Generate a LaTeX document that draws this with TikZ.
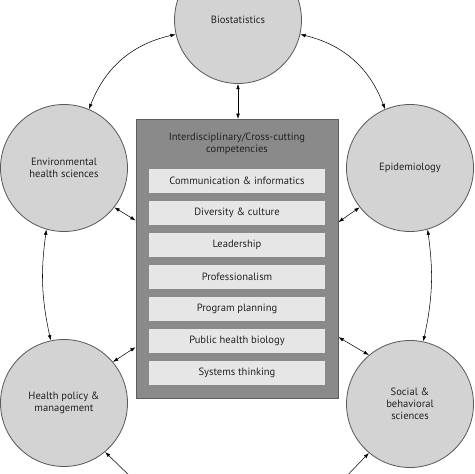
\documentclass[tikz,border=0pt]{standalone}
\usepackage{fontspec}
\setmainfont{PT Sans}
\usepackage{tikz}
\usetikzlibrary{matrix,arrows.meta}

\definecolor{discgray}{HTML}{D3D3D3}
\definecolor{discline}{HTML}{5A5A5A}
\definecolor{coregray}{HTML}{8A8A8A}
\definecolor{coreline}{HTML}{5E5E5E}
\definecolor{itemgray}{HTML}{E6E6E6}
\definecolor{inkgray}{HTML}{222222}

\tikzset{
  field/.style={circle, draw=discline, fill=discgray, line width=0.7pt,
    minimum size=3.81cm, inner sep=0pt, align=center, text=inkgray,
    font=\fontsize{9}{10.5}\selectfont},
  competency/.style={draw=none, fill=itemgray, minimum width=5.28cm,
    minimum height=0.72cm, inner sep=0pt, text=inkgray,
    font=\fontsize{9}{10.5}\selectfont},
  heading/.style={draw=none, fill=none, minimum width=0pt, minimum height=0pt,
    inner sep=0pt, text height=7pt, text depth=2pt, text=inkgray,
    font=\fontsize{9}{10.5}\selectfont},
  link/.style={<->, >={Latex[length=1.6mm,width=1.1mm]}, line width=0.45pt}
}

\begin{document}
\begin{tikzpicture}[x=0.03cm, y=-0.03cm]
    \useasboundingbox (0,0) rectangle (474,474);
    \clip (0,0) rectangle (474,474);

    % the disciplines
    \node[field] (bio) at (238,20) {Biostatistics};
    \node[field] (env) at (64,168) {Environmental\\health sciences};
    \node[field] (epi) at (410,168) {Epidemiology};
    \node[field] (hpm) at (64,403) {Health policy \&\\management};
    \node[field] (sbs) at (410,404) {Social \&\\behavioral\\sciences};

    % the shared competencies
    \matrix (core) [%
      matrix of nodes,
      draw=coreline, fill=coregray, line width=0.7pt,
      inner sep=0.39cm, row sep=0.24cm,
      nodes={competency},
      anchor=north
    ] at (237,119)
    {%
      |[heading]| Interdisciplinary/Cross-cutting \\[-0.2cm]
      |[heading]| competencies \\[0.19cm]
      Communication \& informatics \\
      Diversity \& culture \\
      Leadership \\
      Professionalism \\
      Program planning \\
      Public health biology \\
      Systems thinking \\
    };

    % links
    \coordinate (hpmout) at (138,484);
    \coordinate (sbsout) at (340,483);
    \draw[link] (bio.south) -- (bio.south |- core.north);
    \draw[link] (bio.193) to[bend right=28] (env.67);
    \draw[link] (bio.347) to[bend left=28] (epi.113);
    \draw[link] (env.254) to[bend right=10] (hpm.102);
    \draw[link] (epi.286) to[bend left=10] (sbs.78);
    \draw[link] (env.322) -- ([yshift=1.15cm]core.west);
    \draw[link] (epi.218) -- ([yshift=1.10cm]core.east);
    \draw[link] (hpm.40) -- ([yshift=-2.65cm]core.west);
    \draw[link] (sbs.130) -- ([yshift=-2.35cm]core.east);
    \draw[link] (hpm.310) -- (hpmout);
    \draw[link] (sbs.230) -- (sbsout);
\end{tikzpicture}
\end{document}
